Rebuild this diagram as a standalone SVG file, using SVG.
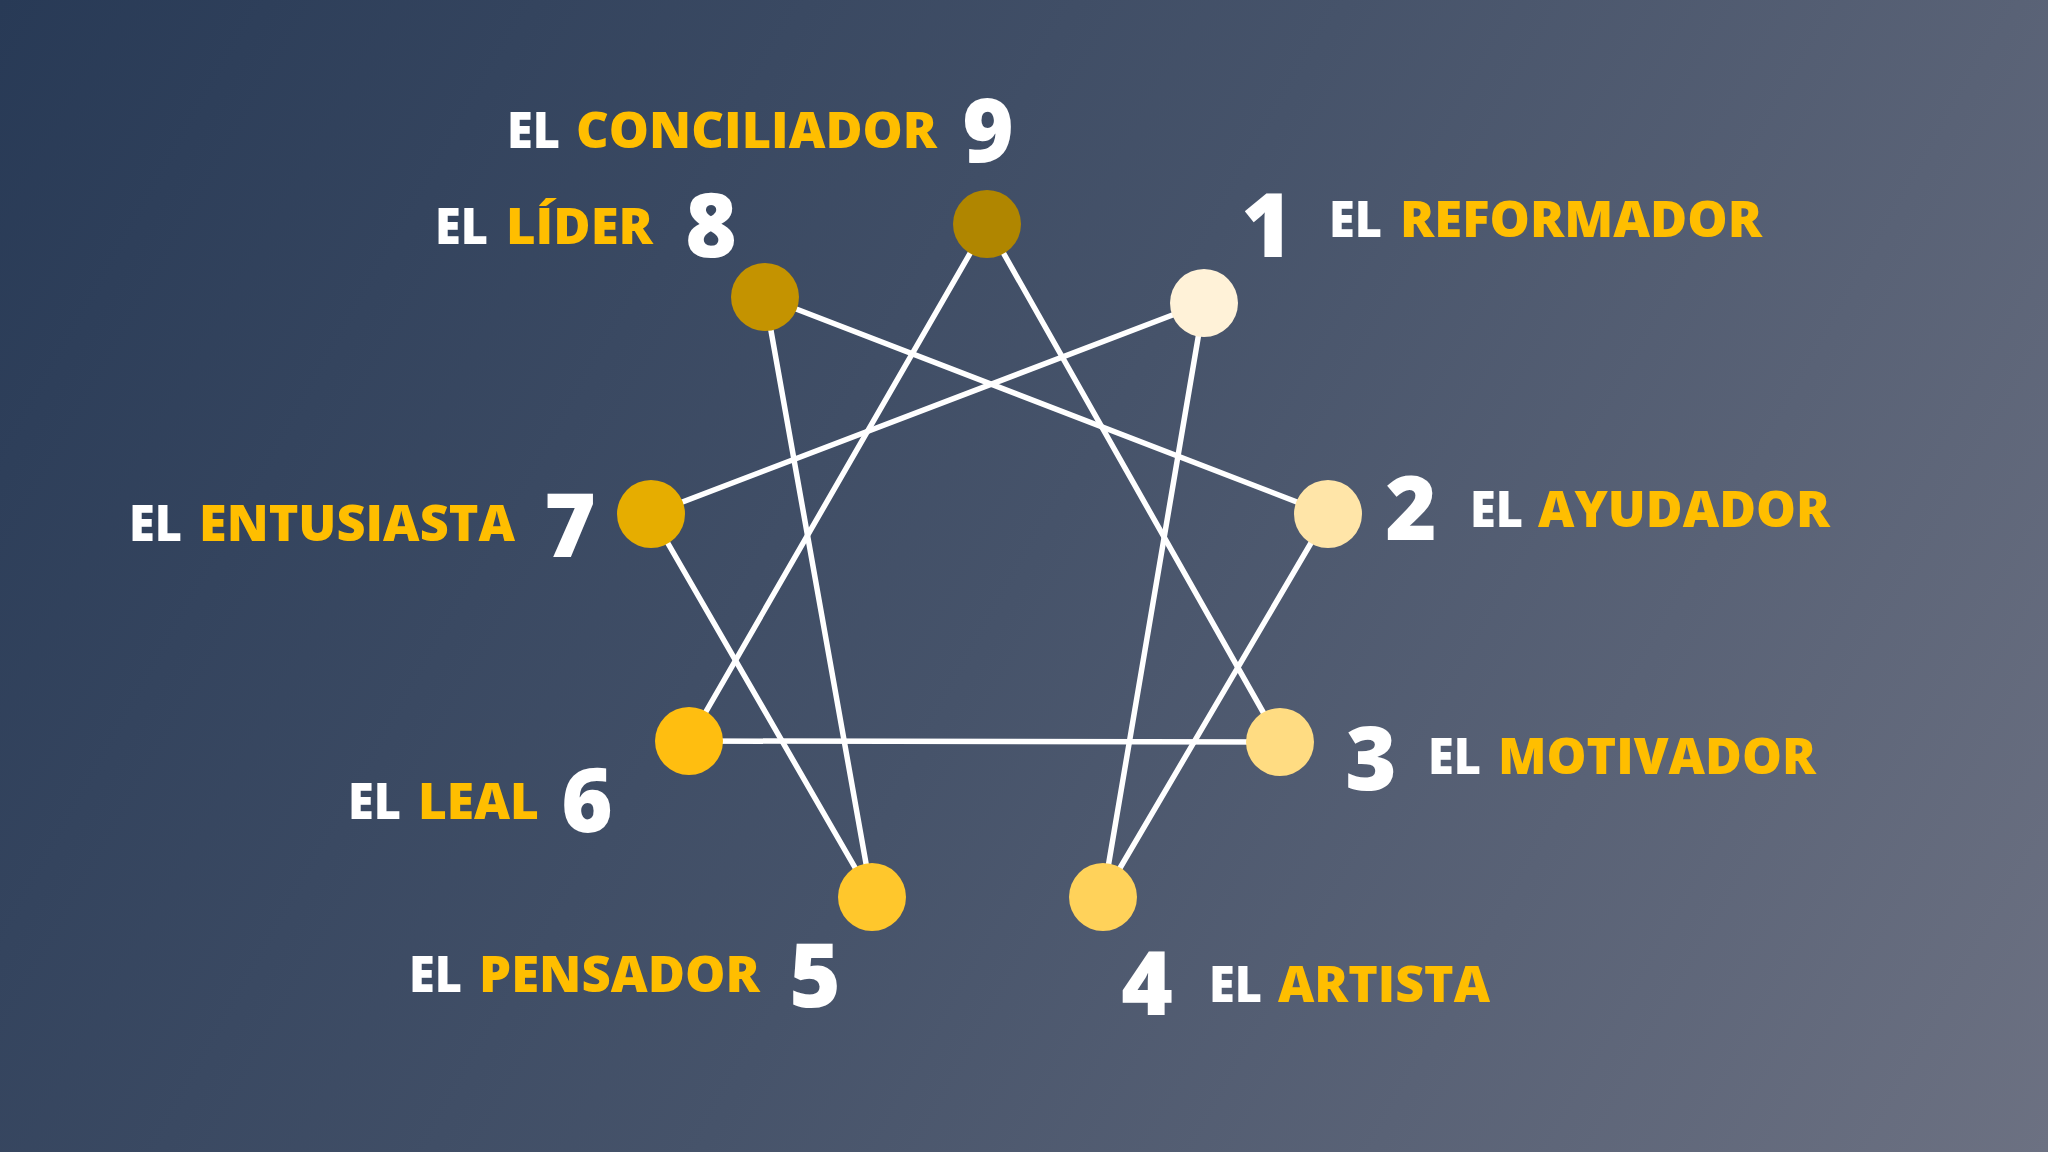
<svg xmlns="http://www.w3.org/2000/svg" width="2048" height="1152" viewBox="0 0 2048 1152">
  <defs>
    <linearGradient id="bg" x1="0" y1="0" x2="2048" y2="1152" gradientUnits="userSpaceOnUse">
      <stop offset="0" stop-color="#283a56"/>
      <stop offset="0.5" stop-color="#46536a"/>
      <stop offset="1" stop-color="#6c7182"/>
    </linearGradient>
    <style>
      .edge { stroke: #ffffff; stroke-width: 5.5; stroke-linecap: round; fill: none; }
      .lbl { font-family: "Open Sans", "Liberation Sans", sans-serif; font-weight: 800; font-size: 50px; }
      .w { fill: #ffffff; }
      .y { fill: #ffbe00; }
      .num { font-family: "Open Sans", "Liberation Sans", sans-serif; font-weight: 800; font-size: 88px; fill: #ffffff; text-anchor: middle; }
    </style>
  </defs>
  <rect x="0" y="0" width="2048" height="1152" fill="url(#bg)"/>

  <g id="connectors">
    <line class="edge" x1="987" y1="224" x2="1280" y2="742"/>
    <line class="edge" x1="987" y1="224" x2="689" y2="741"/>
    <line class="edge" x1="689" y1="741" x2="1280" y2="742"/>
    <line class="edge" x1="1204" y1="303" x2="1103" y2="897"/>
    <line class="edge" x1="1103" y1="897" x2="1328" y2="514"/>
    <line class="edge" x1="1328" y1="514" x2="765" y2="297"/>
    <line class="edge" x1="765" y1="297" x2="872" y2="897"/>
    <line class="edge" x1="872" y1="897" x2="651" y2="514"/>
    <line class="edge" x1="651" y1="514" x2="1204" y2="303"/>
  </g>

  <g id="node-9">
    <circle cx="987" cy="224" r="34" fill="#b08600"/>
    <text class="num" x="988" y="162">9</text>
    <text class="lbl w" x="507" y="148" textLength="53" lengthAdjust="spacingAndGlyphs">EL</text>
    <text class="lbl y" x="576" y="148" textLength="361" lengthAdjust="spacingAndGlyphs">CONCILIADOR</text>
  </g>
  <g id="node-8">
    <circle cx="765" cy="297" r="34" fill="#c49300"/>
    <text class="num" x="711" y="257">8</text>
    <text class="lbl w" x="435" y="244" textLength="53" lengthAdjust="spacingAndGlyphs">EL</text>
    <text class="lbl y" x="506" y="244" textLength="147" lengthAdjust="spacingAndGlyphs">LÍDER</text>
  </g>
  <g id="node-1">
    <circle cx="1204" cy="303" r="34" fill="#fff2d8"/>
    <text class="num" x="1267" y="257">1</text>
    <text class="lbl w" x="1329" y="237" textLength="53" lengthAdjust="spacingAndGlyphs">EL</text>
    <text class="lbl y" x="1400" y="237" textLength="362" lengthAdjust="spacingAndGlyphs">REFORMADOR</text>
  </g>
  <g id="node-2">
    <circle cx="1328" cy="514" r="34" fill="#ffe5a8"/>
    <text class="num" x="1411" y="540">2</text>
    <text class="lbl w" x="1470" y="527" textLength="53" lengthAdjust="spacingAndGlyphs">EL</text>
    <text class="lbl y" x="1538" y="527" textLength="292" lengthAdjust="spacingAndGlyphs">AYUDADOR</text>
  </g>
  <g id="node-3">
    <circle cx="1280" cy="742" r="34" fill="#ffdc82"/>
    <text class="num" x="1371" y="790">3</text>
    <text class="lbl w" x="1428" y="774" textLength="53" lengthAdjust="spacingAndGlyphs">EL</text>
    <text class="lbl y" x="1498" y="774" textLength="318" lengthAdjust="spacingAndGlyphs">MOTIVADOR</text>
  </g>
  <g id="node-4">
    <circle cx="1103" cy="897" r="34" fill="#ffd25a"/>
    <text class="num" x="1147" y="1015">4</text>
    <text class="lbl w" x="1209" y="1002" textLength="53" lengthAdjust="spacingAndGlyphs">EL</text>
    <text class="lbl y" x="1278" y="1002" textLength="212" lengthAdjust="spacingAndGlyphs">ARTISTA</text>
  </g>
  <g id="node-5">
    <circle cx="872" cy="897" r="34" fill="#ffc72c"/>
    <text class="num" x="815" y="1007">5</text>
    <text class="lbl w" x="409" y="992" textLength="53" lengthAdjust="spacingAndGlyphs">EL</text>
    <text class="lbl y" x="479" y="992" textLength="281" lengthAdjust="spacingAndGlyphs">PENSADOR</text>
  </g>
  <g id="node-6">
    <circle cx="689" cy="741" r="34" fill="#ffbe10"/>
    <text class="num" x="587" y="832">6</text>
    <text class="lbl w" x="348" y="819" textLength="53" lengthAdjust="spacingAndGlyphs">EL</text>
    <text class="lbl y" x="418" y="819" textLength="121" lengthAdjust="spacingAndGlyphs">LEAL</text>
  </g>
  <g id="node-7">
    <circle cx="651" cy="514" r="34" fill="#e6ad00"/>
    <text class="num" x="570" y="557">7</text>
    <text class="lbl w" x="129" y="541" textLength="53" lengthAdjust="spacingAndGlyphs">EL</text>
    <text class="lbl y" x="199" y="541" textLength="316" lengthAdjust="spacingAndGlyphs">ENTUSIASTA</text>
  </g>
</svg>
